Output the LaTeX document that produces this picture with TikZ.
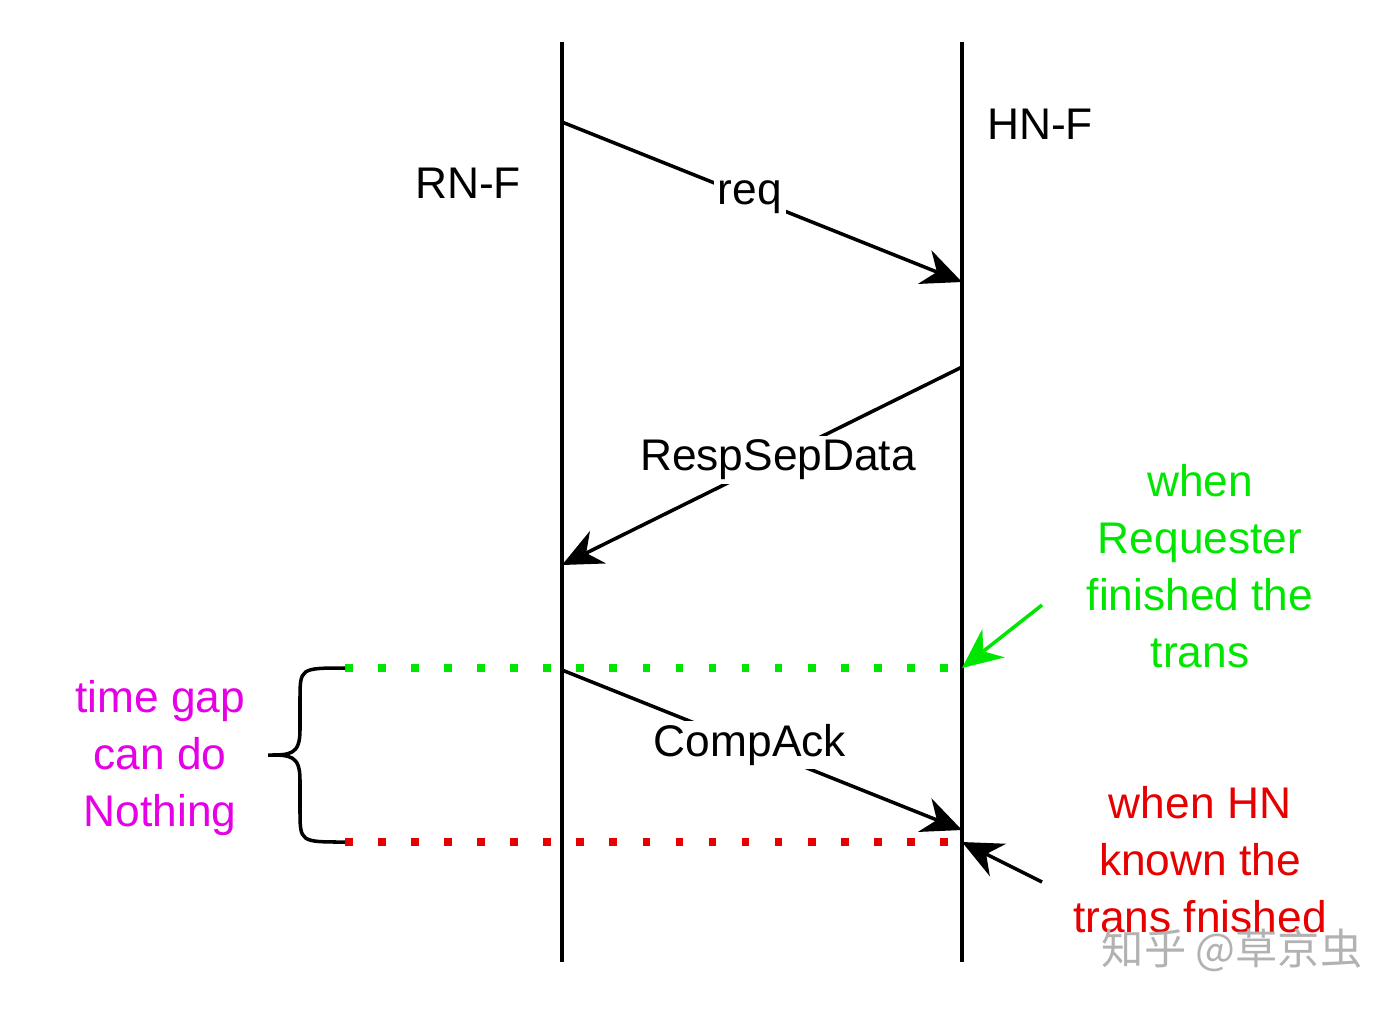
\documentclass[tikz,border=0pt]{standalone}
\usepackage{fontspec}
\setmainfont{Liberation Sans}
\newfontfamily\cjkfont{Noto Sans CJK SC}
\usetikzlibrary{arrows.meta, positioning}

\begin{document}
\begin{tikzpicture}[
  x=0.01cm, y=-0.01cm,
  every node/.style={font=\fontsize{12.6}{16.2}\selectfont},
  lifeline/.style={line width=1pt, black},
  msgarrow/.style={-{Stealth[length=4mm, width=3.6mm]}, line width=1pt, black},
  msglabel/.style={fill=white, inner sep=1pt},
  gapline/.style={line width=2.2pt, dash pattern=on 2.2pt off 7.2pt},
  note/.style={align=center}
]
\useasboundingbox (0,0) rectangle (1400,1008);

% lifelines
\coordinate (rn_top) at (562,42);
\coordinate (rn_bot) at (562,962);
\coordinate (hn_top) at (962,42);
\coordinate (hn_bot) at (962,962);
\draw[lifeline] (rn_top) -- (rn_bot);
\draw[lifeline] (hn_top) -- (hn_bot);

\node (rn_label) at (468,183) {RN-F};
\node (hn_label) at (1040,124) {HN-F};

% messages
\coordinate (req_s) at (562,122);
\coordinate (req_e) at (962,282);
\draw[msgarrow] (req_s) -- (req_e);
\node[msglabel] (req) at (750,197) {req};

\coordinate (resp_s) at (962,367);
\coordinate (resp_e) at (562,565);
\draw[msgarrow] (resp_s) -- (resp_e);
\node[msglabel] (resp) at (778,460) {RespSepData};

\coordinate (ack_s) at (562,670);
\coordinate (ack_e) at (962,830);
\draw[msgarrow] (ack_s) -- (ack_e);
\node[msglabel] (ack) at (750,745) {CompAck};

% time gap
\coordinate (g_l) at (345,668);
\coordinate (g_r) at (962,668);
\coordinate (r_l) at (345,842);
\coordinate (r_r) at (962,842);
\coordinate (tip) at (268,755);
\draw[gapline, color={rgb,255:red,0;green,230;blue,0}] (g_l) -- (g_r);
\draw[gapline, color={rgb,255:red,230;green,0;blue,0}] (r_l) -- (r_r);
\draw[line width=1pt] (g_l) .. controls (300,668) and (300,668) .. (300,700)
  -- (300,730) .. controls (300,755) and (290,755) .. (tip)
  (tip) .. controls (290,755) and (300,755) .. (300,780)
  -- (300,810) .. controls (300,842) and (300,842) .. (r_l);

\node[note, text={rgb,255:red,230;green,0;blue,230}] (gap) at (160,758) {time gap\\can do\\Nothing};

% notes
\node[note, text={rgb,255:red,0;green,230;blue,0}] (fin) at (1200,566) {when\\Requester\\finished the\\trans};
\node[note, text={rgb,255:red,230;green,0;blue,0}] (known) at (1200,860) {when HN\\known the\\trans fnished};
\coordinate (fin_s) at (1042,605);
\coordinate (known_s) at (1042,882);
\draw[msgarrow, color={rgb,255:red,0;green,230;blue,0}] (fin_s) -- (g_r);
\draw[msgarrow] (known_s) -- (r_r);

\node[text=gray!60, font=\cjkfont\fontsize{12}{15}\selectfont] (mark) at (1232,950) {知乎 @草京虫};
\end{tikzpicture}
\end{document}
